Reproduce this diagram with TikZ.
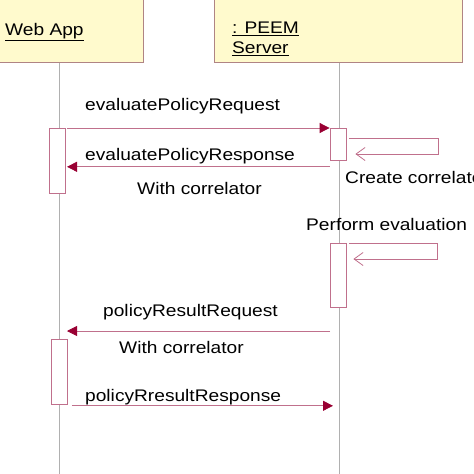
\documentclass[tikz,border=0pt]{standalone}
\usepackage{fontspec}
\setmainfont[FakeStretch=1.14]{Liberation Sans}
\usepackage{xcolor}
\usetikzlibrary{positioning, arrows.meta}

\definecolor{hdrfill}{HTML}{FFFACD}
\definecolor{hdrline}{HTML}{B08484}
\definecolor{msgline}{HTML}{C0708C}
\definecolor{msgtip}{HTML}{990033}
\definecolor{lifecol}{HTML}{B0B0B0}

\begin{document}
\begin{tikzpicture}[x=1pt, y=-1pt,
    every node/.style={font=\fontsize{16.8}{20}\selectfont, inner sep=0pt},
    hdr/.style={draw=hdrline, fill=hdrfill, line width=1pt},
    act/.style={draw=msgline, fill=white, line width=0.8pt, minimum width=16pt},
    lifeline/.style={draw=lifecol, line width=0.8pt},
    msg/.style={draw=msgline, line width=0.8pt, -{Triangle[length=10pt, width=10pt, fill=msgtip, color=msgtip]}},
    selfmsg/.style={draw=msgline, line width=0.8pt, -{Straight Barb[length=9pt, width=13pt]}}]
    \clip (0,0) rectangle (474,474);

    % object boxes
    \node[hdr, minimum width=164pt, minimum height=83pt, anchor=south east] (webbox) at (144,63) {};
    \node[hdr, minimum width=248pt, minimum height=83pt, anchor=south west] (peembox) at (214,63) {};
    \node[anchor=base west] (webname) at (5,35) {\underline{Web App}};
    \node[anchor=north west, align=left] (peemname) at (232,22) {\underline{: PEEM}\\\underline{Server}};

    % lifelines
    \coordinate (webtop) at (59,63);
    \coordinate (webend) at (59,480);
    \coordinate (peemtop) at (339,63);
    \coordinate (peemend) at (339,480);
    \draw[lifeline] (webtop) -- (webend);
    \draw[lifeline] (peemtop) -- (peemend);

    % activations
    \node[act, minimum height=65pt, anchor=north] (webact1) at (57,128) {};
    \node[act, minimum height=32pt, anchor=north] (peemact1) at (338,128) {};
    \node[act, minimum height=64pt, anchor=north] (peemact2) at (338,243) {};
    \node[act, minimum height=65pt, anchor=north] (webact2) at (59.5,339) {};

    % messages
    \draw[msg] ([xshift=2pt]webact1.north east) -- (peemact1.north west);
    \coordinate (resp) at ([shift={(0,6)}]peemact1.south west);
    \draw[msg] (resp) -- (resp -| 67,0);
    \draw[selfmsg] ([shift={(3,10)}]peemact1.north east) -- ++(89,0) -- ++(0,16) -- ++(-83,0);
    \draw[selfmsg] ([xshift=3pt]peemact2.north east) -- ++(88,0) -- ++(0,16) -- ++(-84,0);
    \coordinate (polreq) at (330,331);
    \draw[msg] (polreq) -- (polreq -| 67,0);
    \coordinate (polresp) at ([shift={(4,1)}]webact2.south east);
    \draw[msg] (polresp) -- (polresp -| 333,0);

    % labels
    \node[anchor=base west] (reqlbl) at (85,110) {evaluatePolicyRequest};
    \node[anchor=base west] (resplbl) at (85,160) {evaluatePolicyResponse};
    \node[anchor=base west] (corrlbl1) at (137,194) {With correlator};
    \node[anchor=base west] (createlbl) at (345,183) {Create correlator};
    \node[anchor=base west] (evallbl) at (306,230) {Perform evaluation};
    \node[anchor=base west] (polreqlbl) at (103,316) {policyResultRequest};
    \node[anchor=base west] (corrlbl2) at (119,353) {With correlator};
    \node[anchor=base west] (polresplbl) at (85,401) {policyRresultResponse};
\end{tikzpicture}
\end{document}
